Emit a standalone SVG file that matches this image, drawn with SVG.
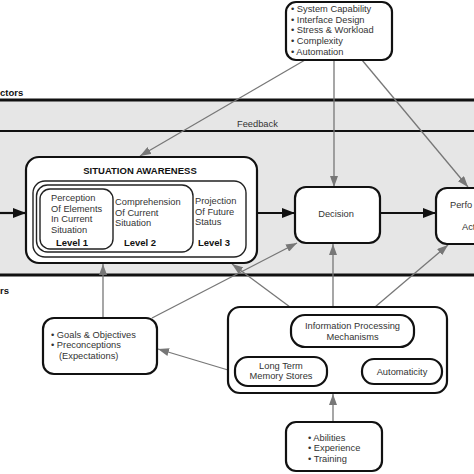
<svg xmlns="http://www.w3.org/2000/svg" width="474" height="474" viewBox="0 0 474 474">
<style>
.box{fill:#fff;stroke:#111;stroke-width:2.2}
.inner{fill:#fff;stroke:#222;stroke-width:1.4}
.t{font-family:"Liberation Sans",Arial,sans-serif;font-size:9.3px;fill:#333}
.b{font-family:"Liberation Sans",Arial,sans-serif;font-size:9.5px;font-weight:bold;fill:#111}
.main{stroke:#111;stroke-width:2.2;fill:none}
.grey{stroke:#777;stroke-width:1.3;fill:none}
</style>
<defs>
<marker id="ab" markerUnits="userSpaceOnUse" markerWidth="13" markerHeight="10" refX="13" refY="5" orient="auto"><path d="M0,0 L13,5 L0,10 z" fill="#111"/></marker>
<marker id="ag" markerUnits="userSpaceOnUse" markerWidth="11" markerHeight="8" refX="11" refY="4" orient="auto"><path d="M0,0 L11,4 L0,8 z" fill="#777"/></marker>
</defs>
<rect width="474" height="474" fill="#fff"/>
<g id="band">
<rect x="0" y="100" width="474" height="175" fill="#e6e6e6"/>
<line x1="0" y1="100" x2="474" y2="100" stroke="#111" stroke-width="3"/>
<line x1="0" y1="131" x2="474" y2="131" stroke="#111" stroke-width="2"/>
<line x1="0" y1="275" x2="474" y2="275" stroke="#111" stroke-width="3"/>
<text class="b" x="0" y="96" font-size="11">ctors</text>
<text class="b" x="0" y="294" font-size="11">rs</text>
<text class="t" x="237" y="127">Feedback</text>
</g>
<g id="connectors">
<line class="main" x1="0" y1="213" x2="26" y2="213" marker-end="url(#ab)"/>
<line class="main" x1="257" y1="213" x2="295" y2="213" marker-end="url(#ab)"/>
<line class="main" x1="380" y1="213" x2="436" y2="213" marker-end="url(#ab)"/>
<line class="grey" x1="305" y1="60" x2="140" y2="156" marker-end="url(#ag)"/>
<line class="grey" x1="334" y1="60" x2="334" y2="187" marker-end="url(#ag)"/>
<line class="grey" x1="362" y1="60" x2="468" y2="187" marker-end="url(#ag)"/>
<line class="grey" x1="103" y1="318" x2="103" y2="264" marker-end="url(#ag)"/>
<line class="grey" x1="152" y1="318" x2="297" y2="243" marker-end="url(#ag)"/>
<line class="grey" x1="228" y1="370" x2="158" y2="349" marker-end="url(#ag)"/>
<line class="grey" x1="290" y1="307" x2="232" y2="264" marker-end="url(#ag)"/>
<line class="grey" x1="333" y1="307" x2="333" y2="244" marker-end="url(#ag)"/>
<line class="grey" x1="375" y1="307" x2="448" y2="245" marker-end="url(#ag)"/>
<line class="grey" x1="333" y1="422" x2="333" y2="394" marker-end="url(#ag)"/>
</g>
<g id="task-factors">
<rect class="box" x="286" y="2" width="106" height="58" rx="10"/>
<text class="t" x="291" y="12">• System Capability</text>
<text class="t" x="291" y="22.5">• Interface Design</text>
<text class="t" x="291" y="33">• Stress &amp; Workload</text>
<text class="t" x="291" y="44">• Complexity</text>
<text class="t" x="291" y="54.5">• Automation</text>
</g>
<g id="situation-awareness">
<rect class="box" x="26" y="157" width="231" height="106" rx="13" stroke-width="2.5"/>
<text class="b" x="140" y="174" font-size="11" text-anchor="middle">SITUATION AWARENESS</text>
<rect class="inner" x="33" y="181" width="213" height="76" rx="12"/>
<rect class="inner" x="36.5" y="185" width="156.5" height="67" rx="11"/>
<rect class="inner" x="40" y="189" width="73" height="60" rx="10"/>
<text class="t" x="51" y="201">Perception</text>
<text class="t" x="51" y="211.5">Of Elements</text>
<text class="t" x="51" y="222">In Current</text>
<text class="t" x="51" y="232.5">Situation</text>
<text class="b" x="72" y="246" text-anchor="middle">Level 1</text>
<text class="t" x="115" y="205">Comprehension</text>
<text class="t" x="115" y="215.5">Of Current</text>
<text class="t" x="115" y="226">Situation</text>
<text class="b" x="140" y="246" text-anchor="middle">Level 2</text>
<text class="t" x="195" y="204">Projection</text>
<text class="t" x="195" y="214.5">Of Future</text>
<text class="t" x="195" y="225">Status</text>
<text class="b" x="214" y="246" text-anchor="middle">Level 3</text>
</g>
<g id="decision">
<rect class="box" x="295" y="187" width="85" height="56" rx="11"/>
<text class="t" x="336" y="216.5" text-anchor="middle">Decision</text>
</g>
<g id="performance">
<rect class="box" x="436" y="188" width="90" height="56" rx="11"/>
<text class="t" x="450" y="208">Perfo</text>
<text class="t" x="462" y="230">Act</text>
</g>
<g id="goals">
<rect class="box" x="43" y="318" width="114" height="56" rx="11"/>
<text class="t" x="51" y="337.5">• Goals &amp; Objectives</text>
<text class="t" x="51" y="348">• Preconceptions</text>
<text class="t" x="59" y="358.5">(Expectations)</text>
</g>
<g id="individual-factors">
<rect class="box" x="228" y="307" width="219" height="86" rx="12"/>
</g>
<g id="info-processing">
<rect class="box" x="291" y="315" width="123" height="32" rx="14" stroke-width="2"/>
<text class="t" x="352.5" y="329" text-anchor="middle">Information Processing</text>
<text class="t" x="352.5" y="339.5" text-anchor="middle">Mechanisms</text>
</g>
<g id="long-term-memory">
<rect class="box" x="235" y="357" width="92" height="29" rx="13" stroke-width="2"/>
<text class="t" x="281" y="368.5" text-anchor="middle">Long Term</text>
<text class="t" x="281" y="379" text-anchor="middle">Memory Stores</text>
</g>
<g id="automaticity">
<rect class="box" x="362" y="359" width="80" height="25" rx="12" stroke-width="2"/>
<text class="t" x="402" y="374.5" text-anchor="middle">Automaticity</text>
</g>
<g id="abilities">
<rect class="box" x="286" y="422" width="96" height="49" rx="10"/>
<text class="t" x="308" y="440.5">• Abilities</text>
<text class="t" x="308" y="451">• Experience</text>
<text class="t" x="308" y="461.5">• Training</text>
</g>
</svg>
